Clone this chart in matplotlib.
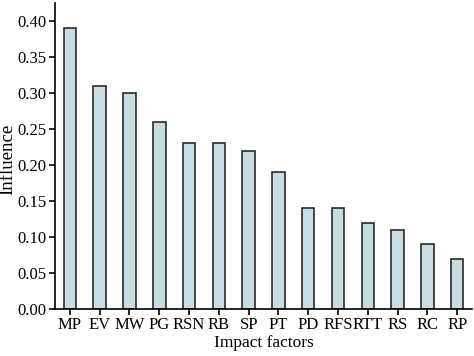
import numpy as np
import matplotlib
matplotlib.use("Agg")
import matplotlib.pyplot as plt

# impact factors and their influence
factors = ["MP", "EV", "MW", "PG", "RSN", "RB", "SP", "PT", "PD", "RFS", "RTT", "RS", "RC", "RP"]
influence = [0.39, 0.31, 0.30, 0.26, 0.23, 0.23, 0.22, 0.19, 0.14, 0.14, 0.12, 0.11, 0.09, 0.07]

plt.rcParams['font.family'] = ['Liberation Serif', 'DejaVu Serif']

fig = plt.figure(figsize=(4.74, 3.56), dpi=100)
ax = fig.add_axes([0.116, 0.132, 0.88, 0.86])

x = np.arange(len(factors))
ax.bar(x, influence, width=0.42, color="#c8dce3", edgecolor="#2b2b2b", linewidth=1.2)

ax.set_xticks(x)
ax.set_xticklabels(factors, fontsize=12)
ax.set_xlim(-0.5, 13.5)
ax.set_ylim(0, 0.425)
ax.set_yticks(np.arange(0, 0.41, 0.05))
ax.set_yticklabels([f"{v:.2f}" for v in np.arange(0, 0.41, 0.05)], fontsize=12)
ax.set_xlabel("Impact factors", fontsize=12.5, labelpad=1)
ax.set_ylabel("Influence", fontsize=13.5)
ax.yaxis.set_label_coords(-0.092, 0.49)

ax.spines['top'].set_visible(False)
ax.spines['right'].set_visible(False)
ax.spines['left'].set_linewidth(1.2)
ax.spines['bottom'].set_linewidth(1.2)
ax.tick_params(axis='both', direction='out', length=4, width=1.2, pad=2)

plt.savefig("out.png", dpi=100)
